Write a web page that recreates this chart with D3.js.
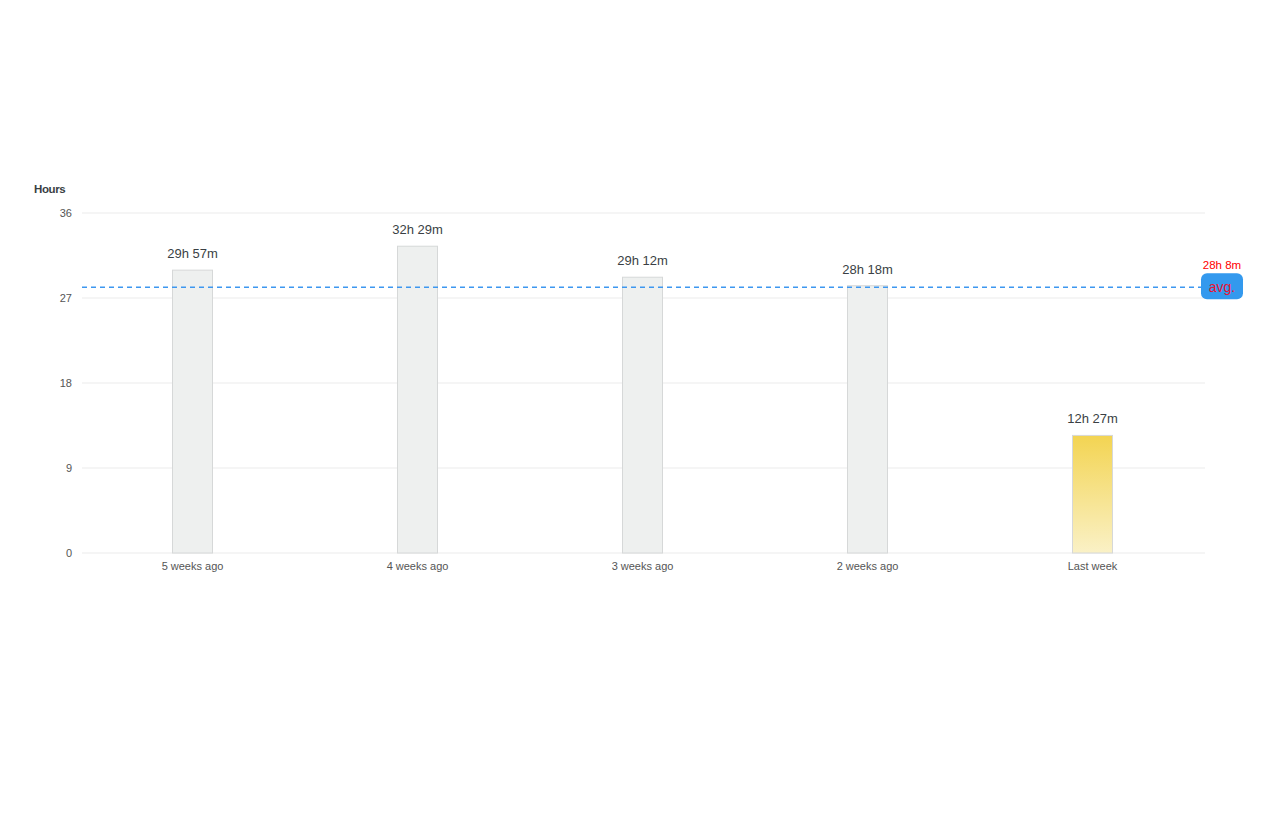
<!DOCTYPE html>
<html>
<head>
<meta charset="utf-8">
<script src="https://cdn.jsdelivr.net/npm/d3@7"></script>
<style>
  body { margin: 0; background: #fff; }
  text { font-family: "Liberation Sans", Arial, sans-serif; }
</style>
</head>
<body>
<div id="chart"></div>
<script>
// weekly totals, in hours
const weeks = ["5 weeks ago", "4 weeks ago", "3 weeks ago", "2 weeks ago", "Last week"];
const hours = [29 + 57 / 60, 32 + 29 / 60, 29 + 12 / 60, 28 + 18 / 60, 12 + 27 / 60];
const barLabels = ["29h 57m", "32h 29m", "29h 12m", "28h 18m", "12h 27m"];
const yTicks = [0, 9, 18, 27, 36];
const avgValue = 28 + 8 / 60;
const avgLabel = "28h 8m";

const svg = d3.select("#chart").append("svg").attr("width", 1279).attr("height", 831);
const margin = { top: 213, left: 80, right: 74, bottom: 278 };
const width = 1279 - margin.left - margin.right;
const height = 831 - margin.top - margin.bottom;

const x = d3.scaleBand().domain(weeks).range([0, width]);
const y = d3.scaleLinear().domain([0, 36]).range([height, 0]);

const g = svg.append("g").attr("transform", `translate(${margin.left},${margin.top})`);

const defs = svg.append("defs");
const grad = defs.append("linearGradient").attr("id", "lastGrad")
    .attr("x1", 0).attr("y1", 0).attr("x2", 0).attr("y2", 1);
grad.append("stop").attr("offset", "0%").attr("stop-color", "#f3d452");
grad.append("stop").attr("offset", "100%").attr("stop-color", "#faf1c6");

// grid
g.selectAll(".grid")
    .data(yTicks)
    .enter()
    .append("line")
    .attr("x1", 2).attr("x2", width)
    .attr("y1", d => y(d)).attr("y2", d => y(d))
    .attr("stroke", "#f2f2f2")
    .attr("stroke-width", 1.5);

// y axis labels
const yAxis = g.append("g")
    .call(d3.axisLeft(y).tickValues(yTicks).tickSize(0).tickPadding(8));
yAxis.select(".domain").remove();
yAxis.selectAll("text").attr("fill", "#555").attr("font-size", 11);

// x axis labels
const xAxis = g.append("g").attr("transform", `translate(0,${height})`)
    .call(d3.axisBottom(x).tickSize(0).tickPadding(9));
xAxis.select(".domain").remove();
xAxis.selectAll("text").attr("fill", "#555").attr("font-size", 11);

svg.append("text")
    .attr("x", 34).attr("y", 193)
    .attr("font-size", 11.5).attr("font-weight", "bold")
    .attr("fill", "#3a3f44")
    .attr("letter-spacing", -0.4)
    .text("Hours");

// bars
const barW = 40;
g.selectAll(".bar")
    .data(hours)
    .enter()
    .append("rect")
    .attr("class", "bar")
    .attr("x", (d, i) => x(weeks[i]) + x.bandwidth() / 2 - barW / 2)
    .attr("y", d => y(d))
    .attr("width", barW)
    .attr("height", d => height - y(d))
    .attr("fill", (d, i) => i === hours.length - 1 ? "url(#lastGrad)" : "#eef0ef")
    .attr("stroke", "#d6d8d8")
    .attr("stroke-width", 1);

g.selectAll(".bar-label")
    .data(hours)
    .enter()
    .append("text")
    .attr("x", (d, i) => x(weeks[i]) + x.bandwidth() / 2)
    .attr("y", d => y(d) - 12)
    .attr("text-anchor", "middle")
    .attr("font-size", 13)
    .attr("fill", "#3a3f44")
    .text((d, i) => barLabels[i]);

// average line
g.append("line")
    .attr("x1", 2).attr("x2", width)
    .attr("y1", y(avgValue)).attr("y2", y(avgValue))
    .attr("stroke", "#3d97f0")
    .attr("stroke-width", 1.5)
    .attr("stroke-dasharray", "5,4");

const ax = width - 4, ay = y(avgValue);
g.append("rect")
    .attr("x", ax).attr("y", ay - 14)
    .attr("width", 42).attr("height", 26)
    .attr("rx", 6)
    .attr("fill", "#3399ee");
g.append("text")
    .attr("x", ax + 21).attr("y", ay + 5)
    .attr("text-anchor", "middle")
    .attr("font-size", 14)
    .attr("fill", "#ee1133")
    .text("avg.");
g.append("text")
    .attr("x", ax + 21).attr("y", ay - 18)
    .attr("text-anchor", "middle")
    .attr("font-size", 11.5)
    .attr("fill", "#ff0000")
    .text(avgLabel);
</script>
</body>
</html>
